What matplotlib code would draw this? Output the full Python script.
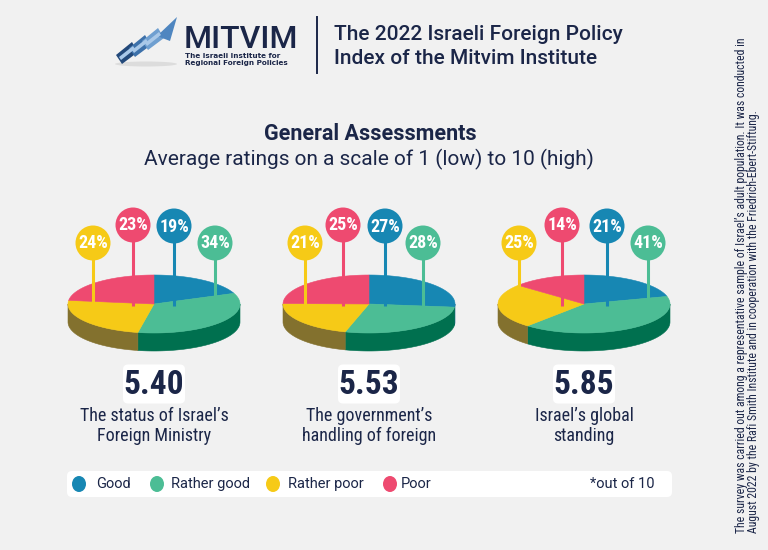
import numpy as np
import matplotlib
matplotlib.use("Agg")
import matplotlib.pyplot as plt
from matplotlib.patches import Polygon, Circle, Ellipse, FancyBboxPatch
from matplotlib import font_manager as fm

# ---------------- data ----------------
categories = ["Good", "Rather good", "Rather poor", "Poor"]
topics = ["The status of Israel\u2019s\nForeign Ministry",
          "The government\u2019s\nhandling of foreign",
          "Israel\u2019s global\nstanding"]
good = [19, 27, 21]
rather_good = [34, 28, 41]
rather_poor = [24, 21, 25]
poor = [23, 25, 14]
averages = [5.40, 5.53, 5.85]

# ---------------- style ----------------
avail = {f.name for f in fm.fontManager.ttflist}
def pick(*names):
    return next((n for n in names if n in avail), "DejaVu Sans")
MAIN = pick("Roboto", "Lato", "DejaVu Sans")
COND = pick("Roboto Condensed", "Liberation Sans Narrow", "DejaVu Sans")
NARROW = pick("Liberation Sans Narrow", "Roboto Condensed", "DejaVu Sans")

BG = "#f1f1f1"
NAVY = "#1b2648"
top_colors = {"Good": "#1787b3", "Rather good": "#4cbd95",
              "Rather poor": "#f6ca17", "Poor": "#ee4a70"}
side_colors = {"Good": "#0d5e80", "Rather good": "#00704f",
               "Rather poor": "#83712e", "Poor": "#a8324f"}

fig = plt.figure(figsize=(7.68, 5.5), dpi=100)
fig.patch.set_facecolor(BG)
ax = fig.add_axes([0, 0, 1, 1])
ax.set_xlim(0, 768)
ax.set_ylim(550, 0)
ax.axis("off")
ax.set_facecolor(BG)

# ---------------- header ----------------
# logo icon
ax.add_patch(Ellipse((146, 64), 62, 5, color="#dcdcdc", lw=0, zorder=1))
band_cols = ["#23497a", "#3d71aa", "#6f9fd0"]
for i, c in enumerate(band_cols):
    x0, y0 = 116 + i * 13, 55 - i * 7
    ax.add_patch(Polygon([(x0, y0), (x0 + 16, y0 - 13), (x0 + 22, y0 - 3),
                          (x0 + 6, y0 + 9)], closed=True, color=c, lw=0, zorder=2))
    ax.add_patch(Polygon([(x0 + 3, y0 + 2), (x0 + 17, y0 - 9), (x0 + 19, y0 - 6),
                          (x0 + 5, y0 + 5)], closed=True, color="#a9c8e8", lw=0, zorder=3))
ax.add_patch(Polygon([(157, 36), (177, 17), (170, 41)], closed=True,
                     color="#4f86c0", lw=0, zorder=2))
ax.text(184, 47.5, "MITVIM", fontsize=23, family=MAIN, weight="medium",
        color=NAVY, va="baseline", ha="left")
ax.text(185, 57.5, "The Israeli Institute for", fontsize=5.2, family="DejaVu Sans",
        weight="bold", color=NAVY, va="baseline", ha="left")
ax.text(185, 64.5, "Regional Foreign Policies", fontsize=5.2, family="DejaVu Sans",
        weight="bold", color=NAVY, va="baseline", ha="left")
ax.plot([317, 317], [17, 73], color=NAVY, lw=1.4)
ax.text(334, 34, "The 2022 Israeli Foreign Policy", fontsize=15, family=MAIN,
        weight="medium", color=NAVY, va="center", ha="left")
ax.text(334, 59, "Index of the Mitvim Institute", fontsize=15, family=MAIN,
        weight="medium", color=NAVY, va="center", ha="left")

# ---------------- titles ----------------
ax.text(370, 134, "General Assessments", fontsize=15.5, family=MAIN,
        weight="bold", color=NAVY, ha="center", va="center")
ax.text(369, 159, "Average ratings on a scale of 1 (low) to 10 (high)",
        fontsize=15, family=MAIN, color=NAVY, ha="center", va="center")

# ---------------- 3D pies ----------------
centers_x = [154, 369, 584]
cy = 304
rx, ry, depth = 86, 29, 18
bubble_dx = [[20, 61, -61, -21], [16, 54, -64, -26], [23, 64, -65, -22]]
bubble_y = [226, 243, 243, 225]

for k, cx in enumerate(centers_x):
    vals = [good[k], rather_good[k], rather_poor[k], poor[k]]
    fr = np.array(vals, float) / sum(vals)
    start = 90.0
    wedges = []
    for cat, f in zip(categories, fr):
        t0, t1 = start, start - f * 360
        wedges.append((cat, t1, t0))
        start = t1
    # sides (front half: -180..0)
    for cat, t1, t0 in wedges:
        a, b = max(t1, -180), min(t0, 0)
        if b > a:
            ts = np.linspace(a, b, 80)
            xs = cx + rx * np.cos(np.radians(ts))
            ys = cy - ry * np.sin(np.radians(ts))
            poly = list(zip(xs, ys)) + list(zip(xs[::-1], ys[::-1] + depth))
            ax.add_patch(Polygon(poly, closed=True, facecolor=side_colors[cat],
                                 edgecolor=side_colors[cat], lw=0.4, zorder=3))
    # tops
    for cat, t1, t0 in wedges:
        ts = np.linspace(t1, t0, 100)
        xs = cx + rx * np.cos(np.radians(ts))
        ys = cy - ry * np.sin(np.radians(ts))
        poly = [(cx, cy)] + list(zip(xs, ys))
        ax.add_patch(Polygon(poly, closed=True, facecolor=top_colors[cat],
                             edgecolor=top_colors[cat], lw=0.4, zorder=4))
    # bubbles
    for j, (cat, v) in enumerate(zip(categories, vals)):
        bx = cx + bubble_dx[k][j]
        by = bubble_y[j]
        ax.plot([bx, bx], [by, cy + 2], color=top_colors[cat], lw=2.2,
                solid_capstyle="butt", zorder=5)
        ax.add_patch(Circle((bx, by), 17.5, color=top_colors[cat], lw=0, zorder=6))
        ax.text(bx, by + 0.5, f"{v}%", fontsize=13, family=COND, weight="bold",
                color="white", ha="center", va="center", zorder=7)
    # average box
    ax.add_patch(FancyBboxPatch((cx - 31, 364.5), 62, 39,
                                boxstyle="round,pad=0,rounding_size=5",
                                facecolor="white", edgecolor="none", zorder=3))
    ax.text(cx, 385, f"{averages[k]:.2f}", fontsize=24, family=COND,
            weight="bold", color=NAVY, ha="center", va="center", zorder=4)
    ax.text(cx, 426, topics[k], fontsize=13, family=COND, color=NAVY,
            ha="center", va="center", linespacing=1.1)

# ---------------- legend ----------------
ax.add_patch(FancyBboxPatch((67, 471), 605, 26,
                            boxstyle="round,pad=0,rounding_size=5",
                            facecolor="white", edgecolor="none", zorder=2))
leg_marker_x = [79, 157, 273, 390]
leg_text_x = [96, 171, 288, 401]
for cat, mx, tx in zip(categories, leg_marker_x, leg_text_x):
    ax.add_patch(Ellipse((mx, 484), 14, 16, color=top_colors[cat], lw=0, zorder=3))
    ax.text(tx, 484, cat, fontsize=10.5, family=MAIN, color=NAVY,
            ha="left", va="center", zorder=4)
ax.text(655, 484, "*out of 10", fontsize=10.5, family=MAIN, color=NAVY,
        ha="right", va="center", zorder=4)

# ---------------- side note ----------------
ax.text(741, 533, "The survey was carried out among a representative sample of "
        "Israel\u2019s adult population. It was conducted in",
        rotation=90, fontsize=8.5, family=NARROW, color=NAVY,
        ha="left", va="center", rotation_mode="anchor")
ax.text(753, 533, "August 2022 by the Rafi Smith Institute and in cooperation "
        "with the Friedrich-Ebert-Stiftung.",
        rotation=90, fontsize=8.5, family=NARROW, color=NAVY,
        ha="left", va="center", rotation_mode="anchor")

fig.savefig("out.png", dpi=100, facecolor=BG)
